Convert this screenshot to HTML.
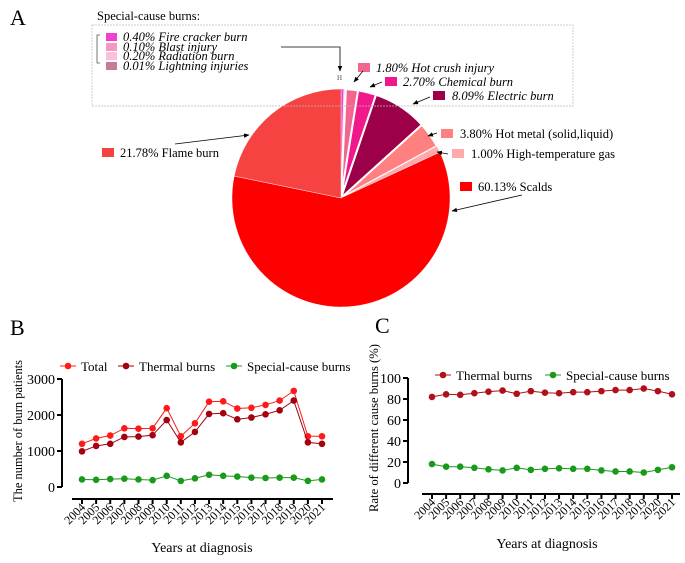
<!DOCTYPE html>
<html><head><meta charset="utf-8"><style>
body{margin:0;background:#fff}
svg{font-family:"Liberation Serif",serif;display:block}
</style></head><body>
<svg id="s" width="685" height="563" viewBox="0 0 685 563">
<defs><marker id="ah" viewBox="0 0 10 10" refX="9" refY="5" markerWidth="7" markerHeight="7" orient="auto"><path d="M0,1 L10,5 L0,9 z" fill="#000"/></marker></defs>
<text x="10" y="25" font-size="22">A</text>
<text x="10" y="335" font-size="22">B</text>
<text x="375" y="333" font-size="22">C</text>
<g id="pie"></g>
<g font-size="12.5">
<text x="97" y="20">Special-cause burns:</text>
<rect x="92" y="25" width="481" height="81" fill="none" stroke="#bbb" stroke-dasharray="2,1" stroke-width="0.7"/>
<path d="M100,35 h-3 v28 h3" fill="none" stroke="#555" stroke-width="0.8"/>
<g font-style="italic">
<rect x="106" y="33" width="11" height="8" fill="#f33fd0"/><text x="123" y="41">0.40%  Fire cracker burn</text>
<rect x="106" y="43" width="11" height="8" fill="#f596c4"/><text x="123" y="51">0.10%  Blast injury</text>
<rect x="106" y="52" width="11" height="8" fill="#f9c0dc"/><text x="123" y="60">0.20%  Radiation burn</text>
<rect x="106" y="62" width="11" height="8" fill="#c47a98"/><text x="123" y="70">0.01%  Lightning injuries</text>
<rect x="358" y="63" width="12" height="9" fill="#f3648e"/><text x="376" y="72">1.80%  Hot crush injury</text>
<rect x="385" y="77" width="12" height="9" fill="#f0188a"/><text x="403" y="86">2.70%  Chemical burn</text>
<rect x="433" y="91" width="12" height="9" fill="#9c0048"/><text x="452" y="100">8.09%  Electric burn</text>
</g>
<rect x="441" y="129" width="12" height="9" fill="#ff8080"/><text x="460" y="138">3.80%  Hot metal (solid,liquid)</text>
<rect x="452" y="149" width="12" height="9" fill="#ffaaaa"/><text x="471" y="158">1.00%  High-temperature gas</text>
<rect x="460" y="182" width="12" height="9" fill="#ff0000"/><text x="478" y="191">60.13%  Scalds</text>
<rect x="102" y="148" width="12" height="9" fill="#f74242"/><text x="120" y="157">21.78%  Flame burn</text>
<g stroke="#000" stroke-width="0.8" fill="none" marker-end="url(#ah)">
<path d="M281,47 H340 V71"/>
<path d="M363,71 L354,82"/>
<path d="M382,82 L370,87"/>
<path d="M430,97 L413,104"/>
<path d="M437,133 L428,136"/>
<path d="M448,154 L437,152"/>
<path d="M522,195 L452,211"/>
<path d="M175,144 L249,135"/>
</g>
<text x="337" y="80" font-size="7" fill="#555">H</text>
</g>
<g id="chartB"></g>
<g id="chartC"></g>
</svg>
<script>
const pieLabels=["Fire cracker burn","Blast injury","Radiation burn","Lightning injuries","Hot crush injury","Chemical burn","Electric burn","Hot metal","High-temperature gas","Scalds","Flame burn"];
const pieValues=[0.40,0.10,0.20,0.01,1.80,2.70,8.09,3.80,1.00,60.13,21.78];
const pieColors=["#f33fd0","#f596c4","#f9c0dc","#c47a98","#f3648e","#f0188a","#9c0048","#ff8080","#ffaaaa","#ff0000","#f74242"];
const years=["2004","2005","2006","2007","2008","2009","2010","2011","2012","2013","2014","2015","2016","2017","2018","2019","2020","2021"];
const totalB=[1200,1350,1430,1630,1620,1630,2190,1410,1770,2370,2380,2180,2200,2280,2400,2670,1410,1410];
const thermalB=[990,1140,1200,1390,1400,1440,1860,1240,1530,2030,2050,1880,1930,2020,2130,2400,1240,1200];
const specialB=[210,200,220,230,210,190,310,170,240,340,310,290,260,250,260,260,170,210];
const thermalC=[82,84.5,84,85.5,87,88,85,87.5,86,85.5,86.5,86.5,87.5,88.5,88.5,90,87.5,84.5];
const specialC=[18,15.5,15.5,14.5,13,12,14.5,12.5,13.5,14,13.5,13.5,12,11,11,10,12.5,15];
const ticksB=[0,1000,2000,3000];
const ticksC=[0,20,40,60,80,100];
const NS="http://www.w3.org/2000/svg";
function mk(p,t,a,txt){const e=document.createElementNS(NS,t);for(const k in a)e.setAttribute(k,a[k]);if(txt!=null)e.textContent=txt;p.appendChild(e);return e;}
(function(){const g=document.getElementById('pie');const cx=341,cy=198,r=109;const tot=pieValues.reduce((a,b)=>a+b,0);let a0=0;
pieValues.forEach((v,i)=>{const a1=a0+v/tot*2*Math.PI;const x0=cx+r*Math.sin(a0),y0=cy-r*Math.cos(a0),x1=cx+r*Math.sin(a1),y1=cy-r*Math.cos(a1);
const p=mk(g,'path',{d:`M${cx},${cy} L${x0},${y0} A${r},${r} 0 ${a1-a0>Math.PI?1:0} 1 ${x1},${y1} Z`,fill:pieColors[i],stroke:'#fff','stroke-width':(i>=4&&i<=7)?2:0.4});

a0=a1;});})();
function chart(id,o){const g=document.getElementById(id);
const x=i=>o.x0+(o.x1-o.x0)*i/(years.length-1);const y=v=>o.yb-(o.yb-o.yt)*(v-o.min)/(o.max-o.min);
mk(g,'line',{x1:o.ax,y1:y(o.min),x2:o.ax,y2:y(o.max),stroke:'#000','stroke-width':2});
o.ticks.forEach(t=>{mk(g,'line',{x1:o.ax-5,x2:o.ax,y1:y(t),y2:y(t),stroke:'#000','stroke-width':2});
const tl=mk(g,'text',{x:o.ax-7,y:y(t)+5,'font-size':14,'text-anchor':'end'},t);});
mk(g,'line',{x1:o.xa0,x2:o.xa1,y1:o.xy,y2:o.xy,stroke:'#000','stroke-width':2});
years.forEach((yr,i)=>{mk(g,'line',{x1:x(i),x2:x(i),y1:o.xy,y2:o.xy+5,stroke:'#000','stroke-width':2});
const tl=mk(g,'text',{transform:`translate(${x(i)+4},${o.xy+9}) rotate(-45)`,'font-size':12,'text-anchor':'end'},yr);});
o.series.forEach(s=>{const pl=mk(g,'polyline',{points:s.d.map((v,i)=>x(i)+','+y(v)).join(' '),fill:'none',stroke:s.c,'stroke-width':1});

s.d.forEach((v,i)=>{const c=mk(g,'circle',{cx:x(i),cy:y(v),r:3.3,fill:s.c});});
mk(g,'line',{x1:s.lx-8,x2:s.lx+8,y1:o.ly,y2:o.ly,stroke:s.c});mk(g,'circle',{cx:s.lx,cy:o.ly,r:3.3,fill:s.c});
const lt=mk(g,'text',{x:s.lx+13,y:o.ly+5,'font-size':13},s.label);});
const yt=mk(g,'text',{transform:`translate(${o.ytx},${o.yty}) rotate(-90)`,'font-size':13,'text-anchor':'middle',textLength:o.ytl,lengthAdjust:'spacingAndGlyphs'},o.ytitle);
const xt=mk(g,'text',{x:o.xtx,y:o.xty,'font-size':14,'text-anchor':'middle'},'Years at diagnosis');}
chart('chartB',{x0:82,x1:322,yb:487,yt:379,min:0,max:3000,ax:62,xa0:72,xa1:333,xy:499,ticks:ticksB,ly:366,ytx:22,yty:431,ytl:142,xtx:202,xty:552,ytitle:'The number of burn patients',
series:[{d:totalB,c:'#ff1a1a',n:'total',label:'Total',lx:68},{d:thermalB,c:'#a30010',n:'thermal-burns',label:'Thermal burns',lx:126},{d:specialB,c:'#1a9a1a',n:'special-cause-burns',label:'Special-cause burns',lx:234}]});
chart('chartC',{x0:432,x1:672,yb:483,yt:378,min:0,max:100,ax:408,xa0:422,xa1:680,xy:494,ticks:ticksC,ly:375,ytx:378,yty:428,ytl:168,xtx:547,xty:548,ytitle:'Rate of different cause burns (%)',
series:[{d:thermalC,c:'#b0101a',n:'thermal-burns',label:'Thermal burns',lx:443},{d:specialC,c:'#1a9a1a',n:'special-cause-burns',label:'Special-cause burns',lx:553}]});
</script>
</body></html>
